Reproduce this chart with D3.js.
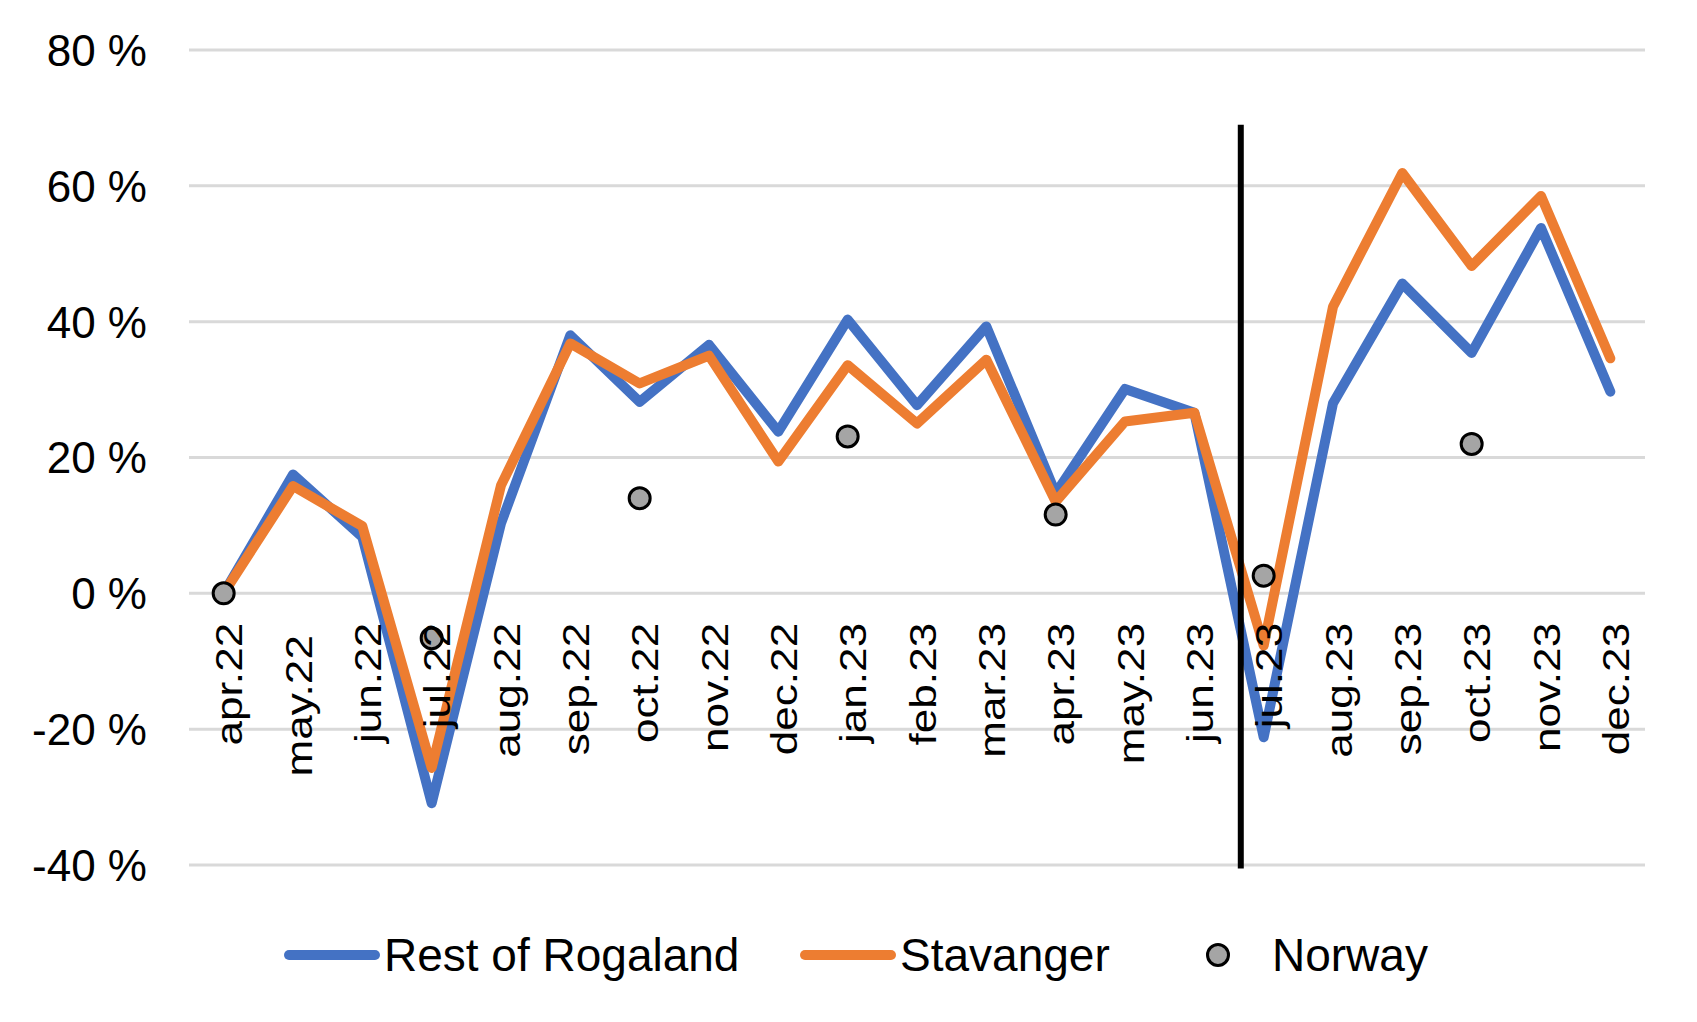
<!DOCTYPE html>
<html>
<head>
<meta charset="utf-8">
<script src="https://cdn.jsdelivr.net/npm/d3@7"></script>
<style>
    body { margin: 0; background: #fff; }
    text { font-family: "Liberation Sans", Arial, sans-serif; fill: #000; }
</style>
</head>
<body>
<div id="chart"></div>
<script>
const months = ["apr.22", "may.22 ", "jun.22", "jul.22", "aug.22", "sep.22", "oct.22", "nov.22", "dec.22",
    "jan.23", "feb.23", "mar.23", "apr.23", "may.23", "jun.23", "jul.23", "aug.23", "sep.23", "oct.23", "nov.23", "dec.23"];

const restOfRogaland = [0, 17.5, 8.3, -30.9, 10.3, 38.0, 28.2, 36.6, 23.8, 40.3, 27.7, 39.3, 14.7, 30.1, 26.6,
    -21.2, 28.0, 45.6, 35.4, 53.8, 29.7];
const stavanger = [0, 15.8, 9.9, -25.7, 15.9, 36.8, 30.9, 35.0, 19.4, 33.6, 25.0, 34.4, 13.5, 25.3, 26.6,
    -7.7, 42.2, 61.9, 48.2, 58.5, 34.6];
const norway = [0, null, null, -6.6, null, null, 14.0, null, null, 23.1, null, null, 11.6, null, null,
    2.6, null, null, 22.0, null, null];

const yTicks = [-40, -20, 0, 20, 40, 60, 80];

// vertical marker between jun.23 and jul.23 (category index, value range in %)
const dividerAt = 14.67;
const dividerRange = [69, -40.5];

const legendItems = [
    {name: "Rest of Rogaland", type: "line", color: "#4472C4"},
    {name: "Stavanger", type: "line", color: "#ED7D31"},
    {name: "Norway", type: "dot", color: "#A5A5A5"}
];

const width = 1697, height = 1022;
const plot = {left: 189, right: 1645, top: 50, bottom: 865};

const svg = d3.select("#chart")
    .append("svg")
    .attr("width", width)
    .attr("height", height);

svg.append("rect").attr("width", width).attr("height", height).attr("fill", "#fff");

const x = d3.scalePoint()
    .domain(d3.range(months.length))
    .range([plot.left, plot.right])
    .padding(0.5);

const y = d3.scaleLinear()
    .domain([-40, 80])
    .range([plot.bottom, plot.top]);

// gridlines
svg.append("g")
    .selectAll("line")
    .data(yTicks)
    .join("line")
    .attr("x1", plot.left)
    .attr("x2", plot.right)
    .attr("y1", d => y(d))
    .attr("y2", d => y(d))
    .attr("stroke", "#d9d9d9")
    .attr("stroke-width", 3);

// y axis labels
const yAxis = svg.append("g")
    .attr("transform", `translate(${plot.left}, 0)`)
    .call(d3.axisLeft(y).tickValues(yTicks).tickSize(0).tickPadding(42).tickFormat(d => `${d} %`));
yAxis.select(".domain").remove();
yAxis.selectAll("text")
    .attr("font-size", 44)
    .attr("font-family", null)
    .attr("dy", "0.35em");

const line = d3.line()
    .x((d, i) => x(i))
    .y(d => y(d));

svg.append("path")
    .datum(restOfRogaland)
    .attr("d", line)
    .attr("fill", "none")
    .attr("stroke", "#4472C4")
    .attr("stroke-width", 10)
    .attr("stroke-linejoin", "round")
    .attr("stroke-linecap", "round");

svg.append("path")
    .datum(stavanger)
    .attr("d", line)
    .attr("fill", "none")
    .attr("stroke", "#ED7D31")
    .attr("stroke-width", 10)
    .attr("stroke-linejoin", "round")
    .attr("stroke-linecap", "round");

svg.append("g")
    .selectAll("circle")
    .data(norway.map((v, i) => ({i, v})).filter(d => d.v !== null))
    .join("circle")
    .attr("cx", d => x(d.i))
    .attr("cy", d => y(d.v))
    .attr("r", 10.5)
    .attr("fill", "#A5A5A5")
    .attr("stroke", "#000")
    .attr("stroke-width", 3);

// x axis labels, rotated (text is a bit stretched along its length)
const stretch = 1.225;
const xAxis = svg.append("g")
    .attr("transform", `translate(0, ${y(0)})`)
    .call(d3.axisBottom(x).tickSize(0).tickFormat(i => months[i]));
xAxis.select(".domain").remove();
xAxis.selectAll("text")
    .attr("font-size", 36)
    .attr("font-family", null)
    .style("white-space", "pre")
    .attr("text-anchor", "end")
    .attr("transform", `rotate(-90) scale(${stretch}, 1)`)
    .attr("x", -29.5 / stretch)
    .attr("y", 0)
    .attr("dy", "0.5em");

// divider
const xDiv = x(0) + dividerAt * x.step();
svg.append("line")
    .attr("x1", xDiv)
    .attr("x2", xDiv)
    .attr("y1", y(dividerRange[0]))
    .attr("y2", y(dividerRange[1]))
    .attr("stroke", "#000")
    .attr("stroke-width", 6);

// legend
const legendX = [289, 805, 1218];
const legendY = 955;
const legend = svg.append("g")
    .selectAll("g")
    .data(legendItems)
    .join("g")
    .attr("transform", (d, i) => `translate(${legendX[i]}, ${legendY})`);

legend.filter(d => d.type === "line")
    .append("line")
    .attr("x1", 0)
    .attr("x2", 86)
    .attr("stroke", d => d.color)
    .attr("stroke-width", 10)
    .attr("stroke-linecap", "round");

legend.filter(d => d.type === "dot")
    .append("circle")
    .attr("r", 10.5)
    .attr("fill", d => d.color)
    .attr("stroke", "#000")
    .attr("stroke-width", 3);

legend.append("text")
    .attr("x", d => d.type === "line" ? 95 : 54)
    .attr("dy", "0.35em")
    .attr("font-size", 46)
    .text(d => d.name);
</script>
</body>
</html>
